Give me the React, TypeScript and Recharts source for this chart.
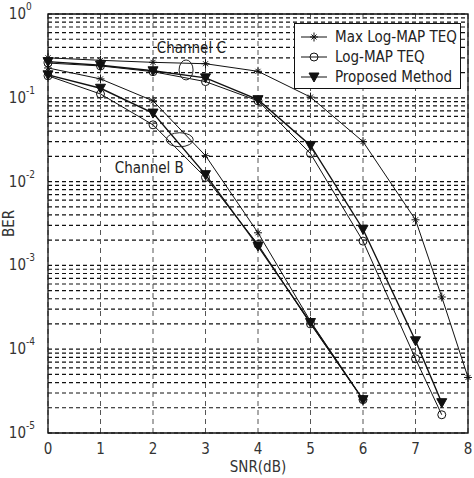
import {
  ComposedChart,
  Line,
  XAxis,
  YAxis,
  CartesianGrid,
  ReferenceArea,
  ReferenceDot,
  Legend,
} from "recharts";

// SNR (dB) sample points
const snr = [0, 1, 2, 3, 4, 5, 6, 7, 7.5, 8];

// Channel C
const cMaxLog = [0.3, 0.28, 0.265, 0.255, 0.207, 0.102, 0.03, 0.0035, 4.2e-4, 4.6e-5];
const cLogMap = [0.26, 0.24, 0.205, 0.156, 0.092, 0.0216, 0.00195, 7.7e-5, 1.65e-5];
const cProposed = [0.27, 0.245, 0.21, 0.173, 0.095, 0.027, 0.0027, 1.26e-4, 2.3e-5];

// Channel B
const bMaxLog = [0.227, 0.168, 0.092, 0.0204, 0.00245, 2.15e-4, 2.5e-5];
const bLogMap = [0.183, 0.111, 0.0476, 0.0112, 0.00178, 2.0e-4, 2.5e-5];
const bProposed = [0.188, 0.13, 0.0657, 0.0121, 0.0017, 2.08e-4, 2.5e-5];

const xTicks = [0, 1, 2, 3, 4, 5, 6, 7, 8];
const decades = [1e-5, 1e-4, 1e-3, 1e-2, 1e-1];
const minorSteps = [1, 2, 3, 4, 5, 6, 7, 8, 9];
const yTicks = [...decades.flatMap((d) => minorSteps.map((m) => d * m)), 1];

const rows = snr.map((s, i) => ({
  snr: s,
  cMax: cMaxLog[i],
  cLog: cLogMap[i],
  cProp: cProposed[i],
  bMax: bMaxLog[i],
  bLog: bLogMap[i],
  bProp: bProposed[i],
}));

const FONT = '"DejaVu Sans Condensed", "Liberation Sans Narrow", Arial, sans-serif';
const INK = "#111";

function Star({ cx, cy }: { cx: number; cy: number }) {
  return (
    <g stroke={INK} strokeWidth={1}>
      <line x1={cx - 4} y1={cy} x2={cx + 4} y2={cy} />
      <line x1={cx} y1={cy - 4.5} x2={cx} y2={cy + 4.5} />
      <line x1={cx - 2.5} y1={cy - 2.5} x2={cx + 2.5} y2={cy + 2.5} />
      <line x1={cx - 2.5} y1={cy + 2.5} x2={cx + 2.5} y2={cy - 2.5} />
    </g>
  );
}

function Circ({ cx, cy }: { cx: number; cy: number }) {
  return <circle cx={cx} cy={cy} r={4} fill="none" stroke={INK} strokeWidth={1} />;
}

function Tri({ cx, cy }: { cx: number; cy: number }) {
  return (
    <path
      d={`M${cx - 5},${cy - 4} L${cx + 5},${cy - 4} L${cx},${cy + 5} Z`}
      fill={INK}
      stroke={INK}
    />
  );
}

const makeDot = (Shape: any, name: string) => (p: any) => {
  if (p.cy == null || p.value == null || isNaN(p.cy)) return <g key={`${name}-${p.index}`} />;
  return (
    <g key={`${name}-${p.index}`}>
      <Shape cx={p.cx} cy={p.cy} />
    </g>
  );
};

const YTick = ({ x, y, payload }: any) => {
  const lg = Math.log10(payload.value);
  if (Math.abs(lg - Math.round(lg)) > 1e-6) return <g />;
  const exp = Math.round(lg);
  return (
    <g>
      <text x={x - 14} y={y + 5} textAnchor="end" fontSize={15} fill="#333" fontFamily={FONT}>
        10
      </text>
      <text x={x - 14} y={y - 4} textAnchor="start" fontSize={10} fill="#333" fontFamily={FONT}>
        {exp}
      </text>
    </g>
  );
};

const legendItems = [
  { label: "Max Log-MAP TEQ", Shape: Star },
  { label: "Log-MAP TEQ", Shape: Circ },
  { label: "Proposed Method", Shape: Tri },
];

const renderLegend = () => (
  <div
    style={{
      border: "1px solid #111",
      background: "#fff",
      width: 167,
      height: 66,
      boxSizing: "border-box",
      padding: "3px 0 0 6px",
      fontFamily: FONT,
      fontSize: 15,
      color: "#222",
    }}
  >
    {legendItems.map((it) => (
      <div key={it.label} style={{ display: "flex", alignItems: "center", height: 20 }}>
        <svg width={26} height={14} style={{ marginRight: 8 }}>
          <line x1={0} y1={7} x2={26} y2={7} stroke={INK} strokeWidth={1} />
          <it.Shape cx={13} cy={7} />
        </svg>
        <span>{it.label}</span>
      </div>
    ))}
  </div>
);

const Ellipse = (rx: number, ry: number) => (p: any) => (
  <ellipse cx={p.cx} cy={p.cy} rx={rx} ry={ry} fill="none" stroke="#222" strokeWidth={1} />
);

const Note = (txt: string) => (p: any) => (
  <text x={p.cx} y={p.cy + 5} textAnchor="middle" fontSize={15} fill="#222" fontFamily={FONT}>
    {txt}
  </text>
);

export default function App() {
  return (
    <div style={{ position: "absolute", left: 0, top: 0, background: "#fff" }}>
      <ComposedChart
        width={474}
        height={478}
        data={rows}
        margin={{ top: 14, right: 6, left: 0, bottom: 0 }}
      >
        <CartesianGrid vertical={false} stroke="#111" strokeWidth={1.2} strokeDasharray="4 3" />
        <CartesianGrid horizontal={false} stroke="#555" strokeWidth={1} strokeDasharray="5 4" />
        <XAxis
          dataKey="snr"
          type="number"
          domain={[0, 8]}
          ticks={xTicks}
          interval={0}
          tickLine={false}
          axisLine={false}
          height={45}
          tick={{ fontSize: 15, fill: "#333", fontFamily: FONT }}
          tickMargin={4}
          label={{ value: "SNR(dB)", position: "insideBottom", offset: 6, fontSize: 15, fill: "#333", fontFamily: FONT }}
        />
        <YAxis
          scale="log"
          domain={[1e-5, 1]}
          ticks={yTicks}
          interval={0}
          allowDataOverflow
          tickLine={false}
          axisLine={false}
          width={48}
          tick={<YTick />}
          label={{
            content: ({ viewBox }: any) => (
              <text
                x={viewBox.x + 14}
                y={viewBox.y + viewBox.height / 2}
                transform={`rotate(-90 ${viewBox.x + 14} ${viewBox.y + viewBox.height / 2})`}
                textAnchor="middle"
                fontSize={15}
                fill="#333"
                fontFamily={FONT}
              >
                BER
              </text>
            ),
          }}
        />
        <ReferenceArea x1={0} x2={8} y1={1e-5} y2={1} fill="none" stroke="#111" strokeWidth={1.3} />

        <Line dataKey="cMax" stroke={INK} strokeWidth={1} dot={makeDot(Star, "cMax")} isAnimationActive={false} legendType="none" />
        <Line dataKey="cLog" stroke={INK} strokeWidth={1} dot={makeDot(Circ, "cLog")} isAnimationActive={false} legendType="none" />
        <Line dataKey="cProp" stroke={INK} strokeWidth={1.4} dot={makeDot(Tri, "cProp")} isAnimationActive={false} legendType="none" />
        <Line dataKey="bMax" stroke={INK} strokeWidth={1} dot={makeDot(Star, "bMax")} isAnimationActive={false} legendType="none" />
        <Line dataKey="bLog" stroke={INK} strokeWidth={1} dot={makeDot(Circ, "bLog")} isAnimationActive={false} legendType="none" />
        <Line dataKey="bProp" stroke={INK} strokeWidth={1.4} dot={makeDot(Tri, "bProp")} isAnimationActive={false} legendType="none" />

        <ReferenceDot x={2.63} y={0.215} r={0} shape={Ellipse(7, 10)} />
        <ReferenceDot x={2.51} y={0.0316} r={0} shape={Ellipse(13.5, 7)} />
        <ReferenceDot x={2.73} y={0.39} r={0} shape={Note("Channel C")} />
        <ReferenceDot x={1.93} y={0.0147} r={0} shape={Note("Channel B")} />

        <Legend
          layout="horizontal"
          verticalAlign="middle"
          align="center"
          content={renderLegend}
          wrapperStyle={{ position: "absolute", left: 294, top: 23, width: "auto" }}
        />
      </ComposedChart>
    </div>
  );
}
